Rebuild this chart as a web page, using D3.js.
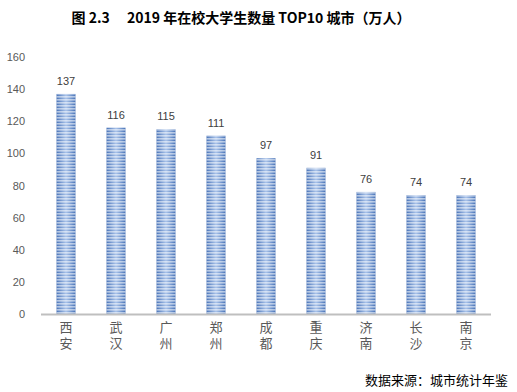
<!DOCTYPE html>
<html><head><meta charset="utf-8">
<script src="https://cdn.jsdelivr.net/npm/d3@7"></script>
<style>body{margin:0;background:#fff;}svg{display:block;}</style>
</head><body>
<script>
const categories = ["西安","武汉","广州","郑州","成都","重庆","济南","长沙","南京"];
const values = [137,116,115,111,97,91,76,74,74];
const yTicks = [0,20,40,60,80,100,120,140,160];
const title = "图 2.3　 2019 年在校大学生数量 TOP10 城市（万人）";
const source = "数据来源：城市统计年鉴";

const W=517,H=392;
const svg=d3.select("body").append("svg").attr("width",W).attr("height",H);
const defs=svg.append("defs");
const g=defs.append("linearGradient").attr("id","bg").attr("x1","0").attr("x2","1").attr("y1","0").attr("y2","0");
g.append("stop").attr("offset","0").attr("stop-color","#4a74b8");
g.append("stop").attr("offset","0.5").attr("stop-color","#a9c3ea");
g.append("stop").attr("offset","1").attr("stop-color","#4a74b8");
const p=defs.append("pattern").attr("id","stripe").attr("patternUnits","userSpaceOnUse").attr("width",10).attr("height",3);
p.append("rect").attr("x",0).attr("y",0).attr("width",10).attr("height",1.6).attr("fill","#ffffff").attr("opacity",0.55);

const x=d3.scaleBand().domain(categories).range([41,491]).paddingInner(0.62).paddingOuter(0.31);
const y=d3.scaleLinear().domain([0,160]).range([314,57]);

// title
svg.append("text").attr("x",241).attr("y",23).attr("text-anchor","middle")
  .attr("font-family","'Noto Sans CJK SC','DejaVu Serif',serif").attr("font-weight","bold").attr("font-size",14)
  .attr("fill","#000").text(title);

// y ticks
svg.append("g").selectAll("text").data(yTicks).join("text")
  .attr("x",25).attr("y",d=>y(d)+4).attr("text-anchor","end")
  .attr("font-family","'Liberation Sans',Arial,sans-serif").attr("font-size",11).attr("fill","#595959").text(d=>d);

// bars
const bars=svg.append("g");
bars.selectAll("rect.b").data(values).join("rect").attr("class","b")
  .attr("x",(d,i)=>x(categories[i])).attr("width",x.bandwidth())
  .attr("y",d=>y(d)).attr("height",d=>y(0)-y(d)).attr("fill","url(#bg)");
bars.selectAll("rect.s").data(values).join("rect").attr("class","s")
  .attr("x",(d,i)=>x(categories[i])).attr("width",x.bandwidth())
  .attr("y",d=>y(d)).attr("height",d=>y(0)-y(d)).attr("fill","url(#stripe)");

// axis line
svg.append("line").attr("x1",41).attr("x2",491).attr("y1",y(0)+0.5).attr("y2",y(0)+0.5)
  .attr("stroke","#bfbfbf").attr("stroke-width",2);

// value labels
svg.append("g").selectAll("text").data(values).join("text")
  .attr("x",(d,i)=>x(categories[i])+x.bandwidth()/2).attr("y",d=>y(d)-9)
  .attr("text-anchor","middle").attr("font-family","'Liberation Sans',Arial,sans-serif")
  .attr("font-size",11).attr("fill","#404040").text(d=>d);

// category labels, vertical writing
svg.append("g").selectAll("text").data(categories).join("text")
  .attr("x",d=>x(d)+x.bandwidth()/2).attr("y",321)
  .style("writing-mode","vertical-rl").style("text-orientation","upright")
  .attr("letter-spacing",3)
  .attr("font-family","'Noto Sans CJK SC',sans-serif")
  .attr("font-size",13).attr("fill","#595959").text(d=>d);

// source
svg.append("text").attr("x",508).attr("y",385).attr("text-anchor","end")
  .attr("font-family","'Noto Sans CJK SC',sans-serif").attr("font-size",13).attr("fill","#000").text(source);
</script>
</body></html>
